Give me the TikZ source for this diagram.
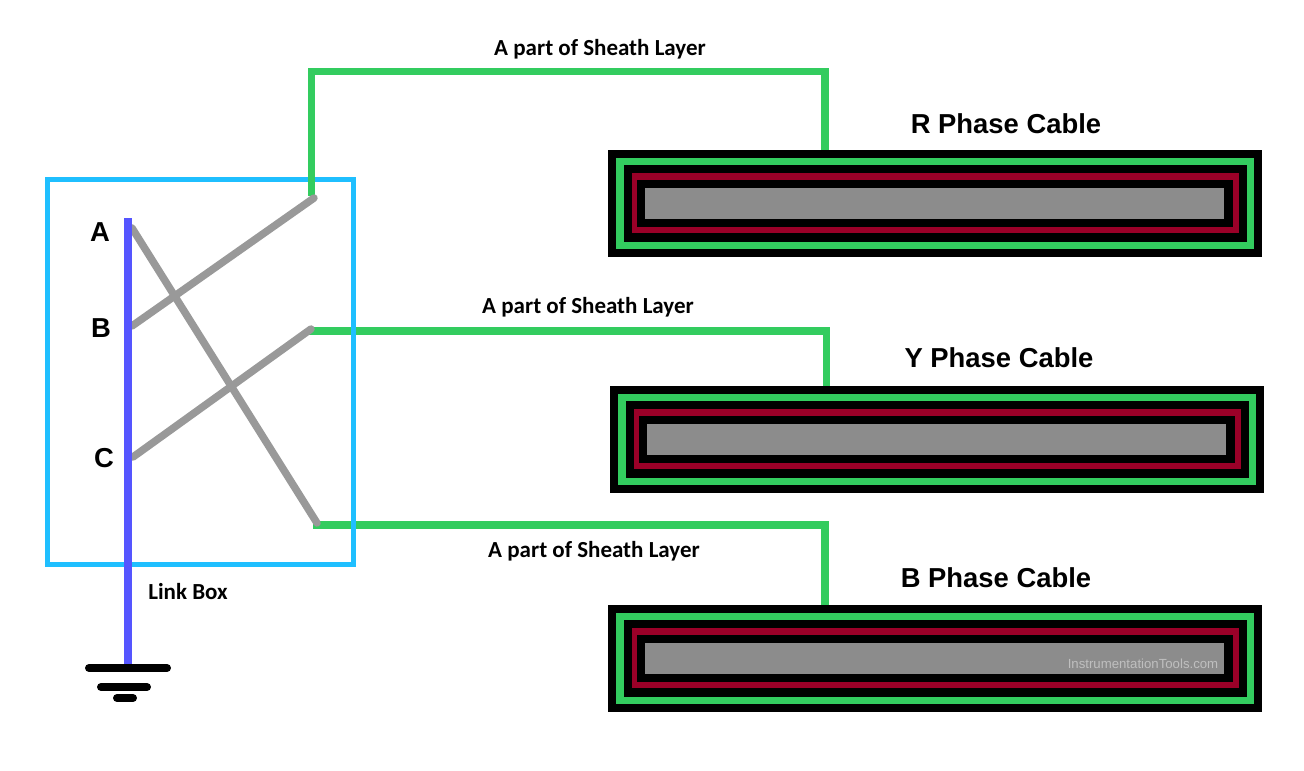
\documentclass[tikz,border=0pt]{standalone}
\usepackage{fontspec}
\setmainfont{Liberation Sans}
\newfontfamily\calibrifont{Carlito}
\definecolor{boxblue}{HTML}{1FBFFF}
\definecolor{earthblue}{HTML}{5555FF}
\definecolor{sheathgreen}{HTML}{33CC5F}
\definecolor{cablered}{HTML}{9B0028}
\definecolor{coregray}{HTML}{8C8C8C}
\definecolor{linkgray}{HTML}{999999}
\tikzset{
  band/.style={rectangle,fill=#1,inner sep=0pt,outer sep=0pt},
  sheathwire/.style={draw=sheathgreen,line width=7.5pt},
  linkwire/.style={draw=linkgray,line width=7.5pt,line cap=round},
  earthbar/.style={draw=black,line width=8pt,line cap=round},
  phaselabel/.style={font=\bfseries\fontsize{27.4}{30}\selectfont,inner sep=0pt},
  sheathlabel/.style={font=\calibrifont\bfseries\fontsize{23}{26}\selectfont,inner sep=0pt}
}

\begin{document}
\begin{tikzpicture}[x=1pt,y=-1pt]
\useasboundingbox (0,0) rectangle (1304,771);
\begin{scope}[xshift=608pt,yshift=-150pt]
\node[band=black,minimum width=654pt,minimum height=107pt] (Rcable) at (327,53.5) {};
\node[band=sheathgreen,minimum width=638pt,minimum height=91pt] (Rsheath) at (327,53.5) {};
\node[band=black,minimum width=623pt,minimum height=77pt] (Rgap) at (327.5,53.5) {};
\node[band=cablered,minimum width=607pt,minimum height=60pt] (Rscreen) at (327.5,53) {};
\node[band=black,minimum width=596pt,minimum height=47pt] (Rinner) at (327,53.5) {};
\node[band=coregray,minimum width=579pt,minimum height=31pt] (Rcore) at (326.5,53.5) {};
\end{scope}
\begin{scope}[xshift=610pt,yshift=-385.5pt]
\node[band=black,minimum width=654pt,minimum height=107pt] (Ycable) at (327,53.5) {};
\node[band=sheathgreen,minimum width=638pt,minimum height=91pt] (Ysheath) at (327,53.5) {};
\node[band=black,minimum width=623pt,minimum height=77pt] (Ygap) at (327.5,53.5) {};
\node[band=cablered,minimum width=607pt,minimum height=60pt] (Yscreen) at (327.5,53) {};
\node[band=black,minimum width=596pt,minimum height=47pt] (Yinner) at (327,53.5) {};
\node[band=coregray,minimum width=579pt,minimum height=31pt] (Ycore) at (326,53.5) {};
\end{scope}
\begin{scope}[xshift=608pt,yshift=-604.5pt]
\node[band=black,minimum width=654pt,minimum height=107pt] (Bcable) at (327,53.5) {};
\node[band=sheathgreen,minimum width=638pt,minimum height=91pt] (Bsheath) at (327,53.5) {};
\node[band=black,minimum width=623pt,minimum height=77pt] (Bgap) at (327.5,53.5) {};
\node[band=cablered,minimum width=607pt,minimum height=60pt] (Bscreen) at (327.5,53) {};
\node[band=black,minimum width=596pt,minimum height=47pt] (Binner) at (327,53.5) {};
\node[band=coregray,minimum width=579pt,minimum height=31pt] (Bcore) at (326.5,53.5) {};
\end{scope}
\node[phaselabel] (Rname) at (1006,124) {R Phase Cable};
\node[phaselabel] (Yname) at (999,358) {Y Phase Cable};
\node[phaselabel] (Bname) at (996,578) {B Phase Cable};
\node[sheathlabel] (Rpart) at (600,49) {A part of Sheath Layer};
\node[sheathlabel] (Ypart) at (588,307) {A part of Sheath Layer};
\node[sheathlabel] (Bpart) at (594,551) {A part of Sheath Layer};
\node[font=\fontsize{13.2}{15}\selectfont,text=black!25,inner sep=0pt] (mark) at (1143,664) {InstrumentationTools.com};
% link box and terminals
\coordinate (Ain) at (132,228);
\coordinate (Bin) at (132,326);
\coordinate (Cin) at (133,457);
\coordinate (Rout) at (314,198);
\coordinate (Yout) at (311,329);
\coordinate (Bout) at (317,523);
\coordinate (Ystart) at (309,331);
\coordinate (Bstart) at (313,525);
\coordinate (Rtop) at (311.5,196);
\coordinate (Rturn) at (825,71.5);
\coordinate (Yturn) at (826.5,331);
\coordinate (Bturn) at (825,525);
\coordinate (earthtop) at (128,218);
\coordinate (earthend) at (128,666);
\draw[sheathwire] (Ystart) -- (Yturn) -- (Ycable.north -| Yturn);
\draw[sheathwire] (Bstart) -- (Bturn) -- (Bcable.north -| Bturn);
\node[draw=boxblue,line width=4.5pt,minimum width=306pt,minimum height=385pt,inner sep=0pt] (linkbox) at (200.5,372) {};
\draw[sheathwire] (Rtop) |- (Rturn) -- (Rcable.north -| Rturn);
\draw[linkwire] (Ain) -- (Bout);
\draw[linkwire] (Bin) -- (Rout);
\draw[linkwire] (Cin) -- (Yout);
\draw[draw=earthblue,line width=8pt] (earthtop) -- (earthend);
\node[phaselabel] (Alabel) at (100,232) {A};
\node[phaselabel] (Blabel) at (101,328) {B};
\node[phaselabel] (Clabel) at (104,458) {C};
\node[sheathlabel] (linkname) at (188,592) {Link Box};
% earth symbol
\coordinate (bar1a) at (89,668);
\coordinate (bar1b) at (167,668);
\coordinate (bar2a) at (101,687);
\coordinate (bar2b) at (147,687);
\coordinate (bar3a) at (117,698);
\coordinate (bar3b) at (133,698);
\draw[earthbar] (bar1a) -- (bar1b);
\draw[earthbar] (bar2a) -- (bar2b);
\draw[earthbar] (bar3a) -- (bar3b);
\end{tikzpicture}
\end{document}
